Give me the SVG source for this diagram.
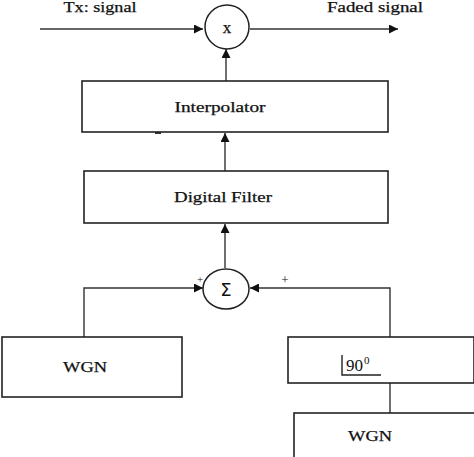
<svg xmlns="http://www.w3.org/2000/svg" width="474" height="457" viewBox="0 0 474 457">
<style>
.box{fill:#fff;stroke:#222;stroke-width:1.6}
.ln{fill:none;stroke:#333;stroke-width:1.4}
.t{font-family:"Liberation Serif",serif;font-size:14px;fill:#111;text-anchor:middle;stroke:#111;stroke-width:0.25}
</style>
<defs>
<marker id="ah" viewBox="0 0 10 10" refX="10" refY="5" markerWidth="10" markerHeight="9" markerUnits="userSpaceOnUse" orient="auto">
<path d="M0,0 L10,5 L0,10 z" fill="#111"/>
</marker>
</defs>
<rect width="474" height="457" fill="#fff"/>
<g id="connectors">
<line class="ln" x1="40" y1="29" x2="203" y2="29" marker-end="url(#ah)"/>
<line class="ln" x1="250" y1="29" x2="398" y2="29" marker-end="url(#ah)"/>
<line class="ln" x1="226" y1="81" x2="226" y2="49" marker-end="url(#ah)"/>
<line class="ln" x1="225" y1="171" x2="225" y2="133" marker-end="url(#ah)"/>
<line class="ln" x1="225" y1="268" x2="225" y2="224" marker-end="url(#ah)"/>
<polyline class="ln" points="84,337 84,288 203,288" marker-end="url(#ah)"/>
<polyline class="ln" points="390,337 390,288 250,288" marker-end="url(#ah)"/>
<line class="ln" x1="390" y1="383" x2="390" y2="413"/>
<line class="ln" x1="155" y1="133" x2="161" y2="133" style="stroke-width:2"/>
</g>
<g id="labels">
<text class="t" x="100" y="12" textLength="73" lengthAdjust="spacingAndGlyphs">Tx: signal</text>
<text class="t" x="375" y="12" textLength="96" lengthAdjust="spacingAndGlyphs">Faded signal</text>
<text class="t" x="200" y="283" style="font-size:11px;stroke-width:0">+</text>
<text class="t" x="285" y="284" style="font-size:13px;stroke-width:0">+</text>
</g>
<g id="multiplier">
<circle cx="227" cy="27" r="22" fill="#fff" stroke="#222" stroke-width="1.5"/>
<text class="t" x="227" y="33" style="font-size:17px">x</text>
</g>
<g id="interpolator">
<rect class="box" x="82" y="81" width="306" height="51"/>
<text class="t" x="220" y="112" textLength="91" lengthAdjust="spacingAndGlyphs">Interpolator</text>
</g>
<g id="digital-filter">
<rect class="box" x="84" y="171" width="304" height="52"/>
<text class="t" x="223" y="202" textLength="98" lengthAdjust="spacingAndGlyphs">Digital Filter</text>
</g>
<g id="sum">
<ellipse cx="226" cy="289" rx="23" ry="20" fill="#fff" stroke="#222" stroke-width="1.5"/>
<text class="t" x="226" y="296" style="font-family:'DejaVu Sans',sans-serif;font-size:18px;stroke-width:0">Σ</text>
</g>
<g id="wgn-left">
<rect class="box" x="2" y="337" width="180" height="60"/>
<text class="t" x="85" y="372" textLength="44" lengthAdjust="spacingAndGlyphs">WGN</text>
</g>
<g id="phase">
<rect class="box" x="288" y="337" width="186" height="46"/>
<polyline points="342,355 342,375 381,375" fill="none" stroke="#222" stroke-width="1.4"/>
<text x="346" y="371" font-family="Liberation Serif,serif" font-size="17" fill="#111">90</text>
<text x="364" y="364" font-family="Liberation Serif,serif" font-size="11" fill="#111">0</text>
</g>
<g id="wgn-right">
<rect class="box" x="294" y="413" width="185" height="50"/>
<text class="t" x="370" y="441" textLength="44" lengthAdjust="spacingAndGlyphs">WGN</text>
</g>
</svg>
